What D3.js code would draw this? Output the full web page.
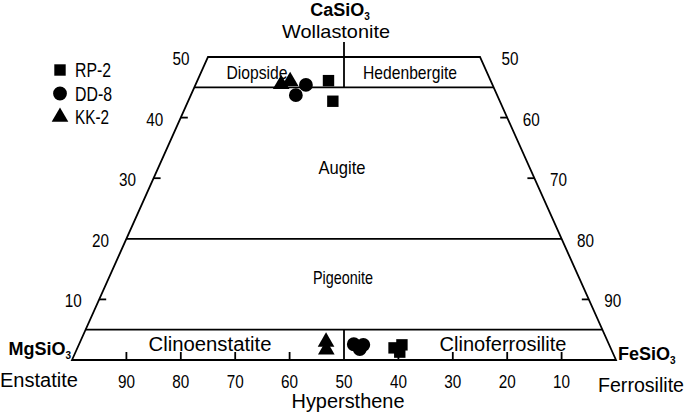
<!DOCTYPE html>
<html>
<head>
<meta charset="utf-8">
<script src="https://cdn.jsdelivr.net/npm/d3@7"></script>
<style>
  body { margin: 0; background: #fff; }
  svg { display: block; font-family: "Liberation Sans", Arial, sans-serif; }
  .frame { fill: none; stroke: #000; stroke-width: 1.8; }
</style>
</head>
<body>
<svg width="685" height="413"></svg>
<script>
// compositions in mol% (Wo, En, Fs)
const rp2 = [
  {wo: 46.1, en: 29.8, fs: 24.1},
  {wo: 42.7, en: 30.7, fs: 26.6},
  {wo: 2.0,  en: 39.8, fs: 58.2},
  {wo: 2.5,  en: 38.1, fs: 59.4},
  {wo: 1.3,  en: 39.1, fs: 59.6}
];
const dd8 = [
  {wo: 43.7, en: 37.0, fs: 19.3},
  {wo: 45.4, en: 34.3, fs: 20.3},
  {wo: 2.6,  en: 46.9, fs: 50.5},
  {wo: 1.8,  en: 46.2, fs: 52.0},
  {wo: 2.5,  en: 45.2, fs: 52.3}
];
const kk2 = [
  {wo: 45.5, en: 38.8, fs: 15.7},
  {wo: 46.0, en: 36.9, fs: 17.1},
  {wo: 1.7,  en: 52.4, fs: 45.9},
  {wo: 3.0,  en: 51.8, fs: 45.2}
];

const seriesNames = ["RP-2", "DD-8", "KK-2"];
const woLines = [45, 20, 5];           // field boundaries
const sideTicks = [40, 30, 10];        // small ticks on both sides
const leftLabels = [50, 40, 30, 20, 10];
const bottomTicks = [90, 80, 70, 60, 50, 40, 30, 20, 10]; // En %

const svg = d3.select("svg");

// x follows Fs + Wo/2, y follows Wo
const xPos = d3.scaleLinear().domain([0, 100]).range([72, 616]);
const yPos = d3.scaleLinear().domain([0, 50]).range([360, 57]);
const proj = (wo, fs) => [xPos(fs + wo / 2), yPos(wo)];

const line = d3.line();

// outer quadrilateral
svg.append("path")
  .attr("class", "frame")
  .attr("d", line([proj(0, 0), proj(0, 100), proj(50, 50), proj(50, 0)]) + "Z");

// horizontal boundaries
woLines.forEach(w => {
  svg.append("path").attr("class", "frame")
    .attr("d", line([proj(w, 0), proj(w, 100 - w)]));
});

// En = Fs divider
svg.append("path").attr("class", "frame")
  .attr("d", line([[xPos(50), 42], [xPos(50), yPos(45)]]));
svg.append("path").attr("class", "frame")
  .attr("d", line([[xPos(50), yPos(5)], [xPos(50), yPos(0)]]));

// side ticks
sideTicks.forEach(w => {
  const l = proj(w, 0), r = proj(w, 100 - w);
  svg.append("path").attr("class", "frame").attr("d", line([l, [l[0] + 7, l[1]]]));
  svg.append("path").attr("class", "frame").attr("d", line([r, [r[0] - 7, r[1]]]));
});

// bottom ticks
bottomTicks.filter(e => e !== 50).forEach(e => {
  const p = proj(0, 100 - e);
  svg.append("path").attr("class", "frame").attr("d", line([p, [p[0], p[1] - 8]]));
});

function label(t, x, y, size, w, anchor) {
  const el = svg.append("text")
    .attr("x", x).attr("y", y)
    .attr("font-size", size)
    .attr("text-anchor", anchor || "middle")
    .text(t);
  if (w) el.attr("textLength", w).attr("lengthAdjust", "spacingAndGlyphs");
  return el;
}

// axis numbers
leftLabels.forEach(w => {
  const l = proj(w, 0), r = proj(w, 100 - w);
  const off = w === 50 ? 27 : 26;
  label(w, l[0] - off, l[1] + 8, 19, 17);
  label(100 - w, r[0] + (w === 50 ? 30 : 24), r[1] + 8, 19, 17);
});
bottomTicks.forEach(e => {
  label(e, xPos(100 - e), 388, 19, 17);
});

// field names and end members
label("Wollastonite", 336, 38, 19, 108);
label("Diopside", 257, 79, 19, 61);
label("Hedenbergite", 410, 79, 19, 94);
label("Augite", 342, 174, 19, 47);
label("Pigeonite", 343, 284, 19, 60);
label("Clinoenstatite", 210, 351, 20, 123);
label("Clinoferrosilite", 503, 351, 20, 127);
label("Enstatite", 39, 387, 20, 78);
label("Ferrosilite", 641, 392, 20, 86);
label("Hypersthene", 348, 408, 20, 113);

function formula(base, x, y, anchor) {
  const t = svg.append("text")
    .attr("x", x).attr("y", y)
    .attr("font-size", 18).attr("font-weight", "bold")
    .attr("text-anchor", anchor);
  t.append("tspan").text(base);
  t.append("tspan").attr("font-size", 10).attr("dy", 4).text("3");
}
formula("CaSiO", 340, 16, "middle");
formula("MgSiO", 71, 355, "end");
formula("FeSiO", 618, 360, "start");

// markers
const shapes = [d3.symbolSquare, d3.symbolCircle, d3.symbolTriangle];
const sizes = [130, 150, 120];
const dataSets = [rp2, dd8, kk2];

dataSets.forEach((set, i) => {
  svg.append("g").selectAll("path")
    .data(set)
    .join("path")
    .attr("transform", d => {
      const p = proj(d.wo, d.fs);
      return `translate(${p[0]},${p[1]})`;
    })
    .attr("d", d3.symbol(shapes[i], sizes[i]))
    .attr("fill", "#000");
});

// legend
seriesNames.forEach((name, i) => {
  const y = 70 + i * 23.5;
  svg.append("path")
    .attr("transform", `translate(60,${y})`)
    .attr("d", d3.symbol(shapes[i], sizes[i]))
    .attr("fill", "#000");
  label(name, 75, y + 7, 20, [36, 37, 34][i], "start");
});
</script>
</body>
</html>
